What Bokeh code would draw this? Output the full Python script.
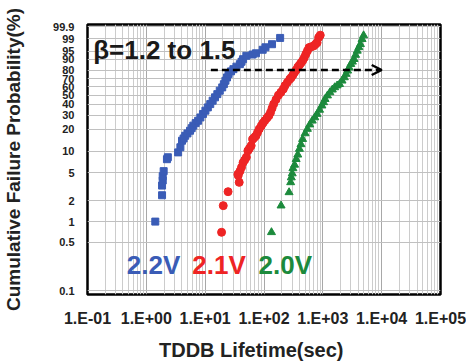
import numpy as np
from bokeh.plotting import figure
from bokeh.layouts import column
from bokeh.models import (FixedTicker, CustomJSTickFormatter, Label, Arrow, OpenHead,
                          Range1d, ColumnDataSource, Div)
from bokeh.embed import file_html
from bokeh.resources import INLINE

# ---- data (TDDB lifetime in s, cumulative failure probability in %) ----
blue_t = [1.42, 1.85, 1.85, 1.90, 1.90, 1.97, 2.24, 2.32, 3.47, 3.79, 4.04, 4.3, 4.58, 5.0, 5.53, 5.9,
          6.29, 6.9, 7.59, 8.3, 9.17, 10.1, 11.1, 12.2, 13.4, 14.7, 16.1, 17.7, 19.5, 20.8, 22.1, 23.5,
          25.0, 27.5, 30.2, 34.0, 38.9, 41.5, 44.1, 50.1, 64, 73, 95, 106, 137, 188]
blue_F = [1.0, 2.4, 3.3, 3.9, 4.5, 5.3, 7.8, 8.3, 9.7, 11.4, 14.0, 15.0, 16.3, 17.5, 19.0, 20.5,
          22.1, 23.8, 25.5, 28.0, 30.8, 33.8, 36.9, 40.2, 43.8, 47.5, 51.2, 55.3, 59.3, 63.3, 67.5, 71.5,
          75.4, 78.5, 80.9, 83.5, 85.9, 88.0, 90.1, 92.5, 93.3, 94.0, 95.8, 96.8, 97.8, 99.1]

red_t = [19.0, 20.3, 24.5, 37.9, 36.0, 36.5, 39.0, 41.5, 44.1, 47.0, 50.1, 53.2, 56.5, 60.5, 64.3,
         68.5, 73.1, 77.6, 83.0, 90.0, 96.0, 103, 112, 121, 129, 137, 146, 160, 176, 194, 213, 227,
         250, 274, 291, 311, 331, 352, 375, 400, 425, 453, 483, 513, 548, 583, 640, 704, 750, 798,
         849, 904]
red_F = [0.70, 1.70, 2.70, 3.67, 4.8, 4.6, 5.3, 6.0, 7.0, 7.6, 8.3, 10.2, 11.0, 12.0, 14.7,
         15.5, 16.3, 18.0, 20.0, 22.0, 23.8, 25.5, 27.5, 29.4, 32.2, 36.0, 40.2, 45.0, 50.0, 53.5, 57.2, 61.4,
         65.5, 69.4, 71.5, 74.5, 77.5, 80.0, 83.0, 85.0, 87.0, 88.8, 91.2, 93.5, 95.3, 96.7, 97.0, 97.3, 97.8, 98.2,
         99.16, 99.43]

green_t = [134, 195, 267, 284, 291, 302, 310, 331, 352, 375, 400, 425, 453, 500, 547, 600, 661, 730,
           798, 880, 964, 1030, 1091, 1200, 1318, 1450, 1592, 1750, 1923, 2120, 2323, 2480, 2638,
           2800, 2986, 3180, 3388, 3600, 3846, 4100, 4355, 4645, 4932]
green_F = [0.70, 1.70, 2.64, 3.67, 4.3, 4.9, 5.8, 6.5, 7.8, 9.0, 10.8, 12.5, 14.7, 17.5, 20.0, 22.8, 25.5, 28.0,
           30.8, 34.5, 38.6, 42.0, 45.5, 49.5, 53.2, 56.5, 59.3, 61.5, 63.3, 67.5, 71.5, 75.5, 79.2,
           82.5, 85.9, 88.0, 90.1, 93.0, 95.3, 96.8, 97.8, 98.9, 99.4]

prob_ticks = [0.1, 0.5, 1, 2, 5, 10, 20, 30, 40, 50, 60, 70, 80, 90, 95, 99, 99.9]
prob_labels = ["0.1", "0.5", "1", "2", "5", "10", "20", "30", "40", "50", "60", "70", "80", "90",
               "95", "99", "99.9"]
x_decades = [1e-1, 1e0, 1e1, 1e2, 1e3, 1e4, 1e5]
series_labels = ["2.2V", "2.1V", "2.0V"]
beta_text = "β=1.2 to 1.5"
x_title = "TDDB Lifetime(sec)"
y_title = "Cumulative Failure Probability(%)"

BLUE = "#3a5cb6"
RED = "#ee2424"
GREEN = "#1c8a3c"
FONT = "Liberation Sans"


def weib(F):
    F = np.asarray(F, dtype=float) / 100.0
    return np.log(-np.log(1.0 - F))


w_top = float(weib(99.9))
w_bot = float(weib(0.1))
ppu = 264.0 / (w_top - w_bot)
y_hi = w_top + 2.0 / ppu
y_lo = y_hi - 270.0 / ppu

p = figure(width=466, height=330, x_axis_type="log", output_backend="svg", toolbar_location=None,
           x_range=Range1d(0.1, 1e5), y_range=Range1d(y_lo, y_hi),
           min_border_left=74, min_border_right=26, min_border_top=24, min_border_bottom=36)
p.background_fill_color = "white"
p.border_fill_color = "white"
p.outline_line_color = "black"
p.outline_line_width = 2.5

minors = [m * d for d in x_decades[:-1] for m in range(2, 10)]
p.xaxis.ticker = FixedTicker(ticks=x_decades, minor_ticks=minors)
p.xgrid.ticker = FixedTicker(ticks=x_decades, minor_ticks=minors)
p.xgrid.grid_line_color = "#a8a8a8"
p.xgrid.grid_line_width = 1
p.xgrid.minor_grid_line_color = "#cccccc"
p.xgrid.minor_grid_line_width = 1
p.xaxis.formatter = CustomJSTickFormatter(code="""
const e = Math.round(Math.log10(tick));
return "1.E" + (e < 0 ? "-" : "+") + String(Math.abs(e)).padStart(2, "0");
""")

yt = [float(v) for v in weib(prob_ticks)]
p.yaxis.ticker = FixedTicker(ticks=yt)
p.ygrid.ticker = FixedTicker(ticks=yt)
p.ygrid.grid_line_color = "#c0c0c0"
p.ygrid.grid_line_width = 1
p.yaxis.formatter = CustomJSTickFormatter(args=dict(probs=prob_ticks, labs=prob_labels), code="""
const F = 100 * (1 - Math.exp(-Math.exp(tick)));
let best = 0, bd = 1e9;
for (let i = 0; i < probs.length; i++) { const d = Math.abs(probs[i] - F); if (d < bd) { bd = d; best = i; } }
return labs[best];
""")

for ax in (p.xaxis[0], p.yaxis[0]):
    ax.axis_line_color = None
    ax.major_tick_line_color = None
    ax.minor_tick_line_color = None
    ax.major_label_text_font = FONT
    ax.major_label_text_font_style = "bold"
    ax.major_label_text_color = "#222222"
    ax.axis_label_text_font = FONT
    ax.axis_label_text_font_style = "bold"
    ax.axis_label_text_color = "#222222"

p.xaxis.major_label_text_font_size = "16px"
p.xaxis.major_label_standoff = 9

p.yaxis.major_label_text_font_size = "11px"
p.yaxis.major_label_standoff = 7
p.yaxis.axis_label = y_title
p.yaxis.axis_label_text_font_size = "19px"
p.yaxis.axis_label_standoff = 26

src_b = ColumnDataSource(dict(t=blue_t, w=weib(blue_F)))
src_r = ColumnDataSource(dict(t=red_t, w=weib(red_F)))
src_g = ColumnDataSource(dict(t=green_t, w=weib(green_F)))
p.scatter("t", "w", source=src_b, marker="square", size=7, fill_color=BLUE, line_color=BLUE)
p.scatter("t", "w", source=src_r, marker="circle", size=8, fill_color=RED, line_color=RED)
p.scatter("t", "w", source=src_g, marker="triangle", size=8, fill_color=GREEN, line_color=GREEN)

# dashed arrow along the 80 % line
w80 = float(weib(80))
p.add_layout(Arrow(x_start=12.5, y_start=w80, x_end=1.0e4, y_end=w80,
                   line_color="black", line_width=2.5, line_dash="7 4",
                   end=OpenHead(size=10, line_width=2.5, line_color="black")))

p.add_layout(Label(x=0.125, y=float(weib(95.5)), text=beta_text, text_font=FONT,
                   text_font_style="bold", text_font_size="26px", text_color="#1a1a1a",
                   text_baseline="alphabetic"))

w_lab = float(weib(0.236))
for xt, txt, col in zip([0.465, 6.05, 80.7], series_labels, [BLUE, RED, GREEN]):
    p.add_layout(Label(x=xt, y=w_lab, text=txt, text_font=FONT, text_font_style="bold",
                       text_font_size="26px", text_color=col, text_baseline="alphabetic"))

xlab = Div(text=x_title, width=307, height=23, margin=0,
           styles={"font-family": "'Liberation Sans', Arial, sans-serif", "font-weight": "bold",
                   "font-size": "20px", "color": "#222222", "padding-left": "159px",
                   "padding-top": "9px", "white-space": "nowrap", "line-height": "23px"})

layout = column(p, xlab, spacing=0)
open("out.html", "w").write(file_html(layout, INLINE))
